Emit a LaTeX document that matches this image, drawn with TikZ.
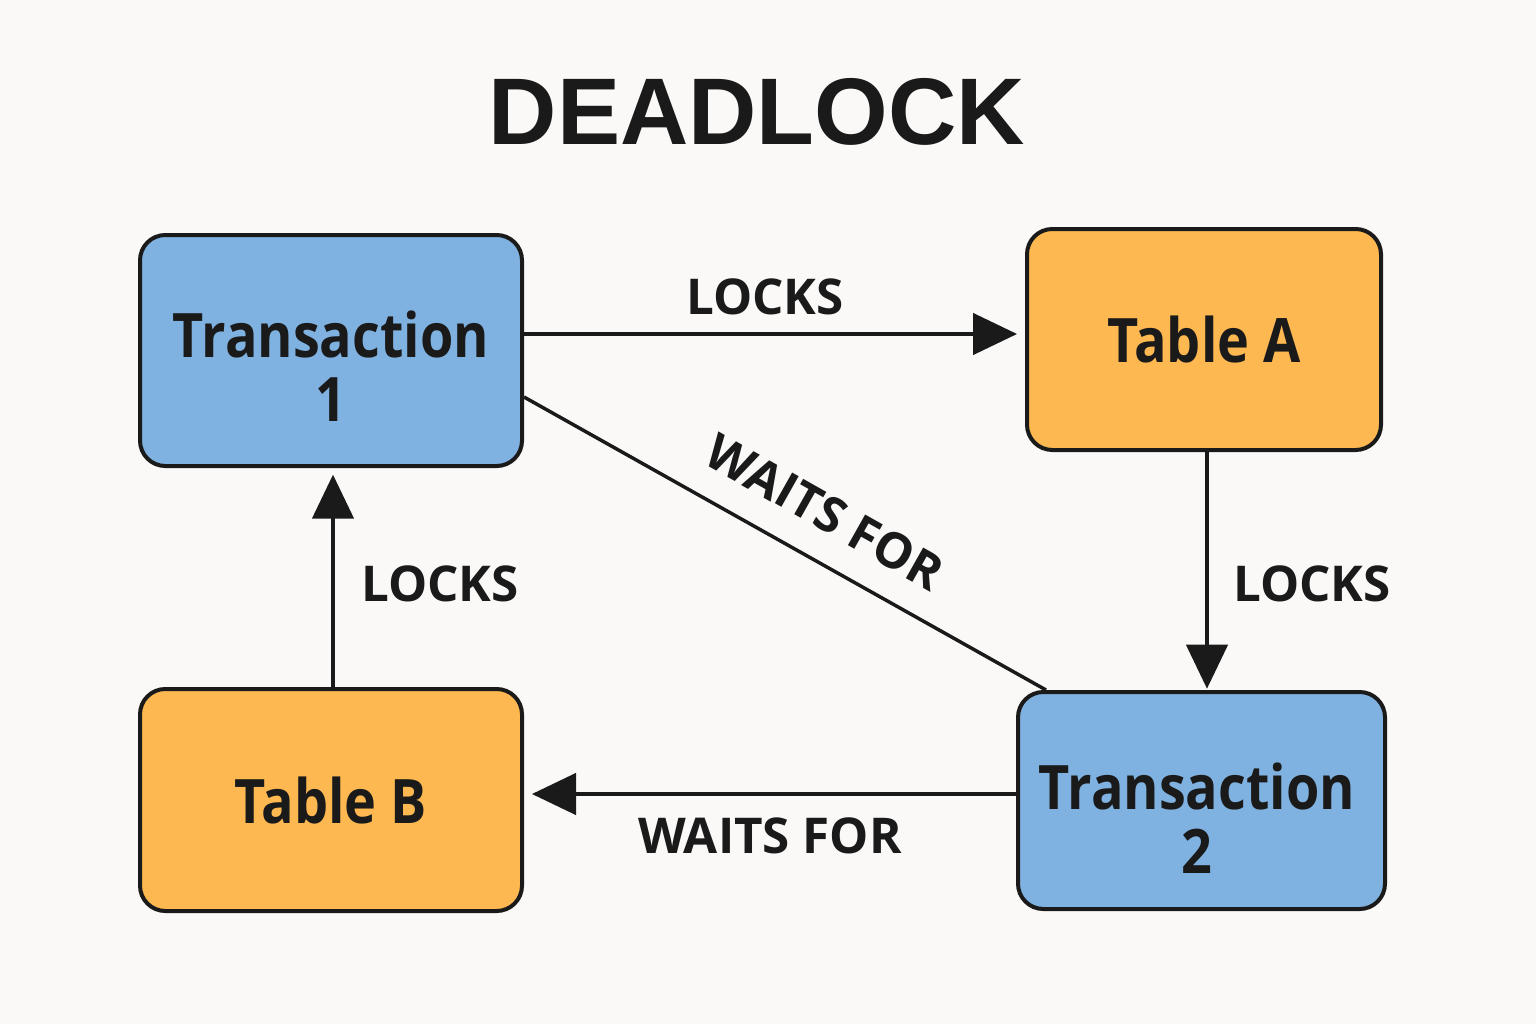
\documentclass[tikz,border=0pt]{standalone}
\usepackage{fontspec}
\setmainfont{Open Sans}
\newfontfamily\boxfont[FakeStretch=0.88]{Open Sans}
\newfontfamily\titlefont{Liberation Sans}
\usetikzlibrary{arrows.meta}
\definecolor{bgc}{HTML}{FAF9F7}
\definecolor{bluef}{HTML}{7FB2E0}
\definecolor{orangef}{HTML}{FDB851}
\definecolor{ink}{HTML}{1A1A1A}
\tikzset{
  box/.style={draw=ink, line width=3pt, rounded corners=19pt, align=center,
    font=\boxfont\fontsize{46}{48}\selectfont\bfseries, text=ink, inner sep=0pt},
  bluebox/.style={box, fill=bluef},
  orangebox/.style={box, fill=orangef},
  boxtext/.style={align=center, font=\boxfont\fontsize{46}{48}\selectfont\bfseries, text=ink, inner sep=0pt},
  arr/.style={draw=ink, line width=2.6pt, -{Triangle[length=33pt,width=31pt]}},
  conn/.style={draw=ink, line width=2.6pt},
  lbl/.style={font=\fontsize{37}{38}\selectfont\bfseries, text=ink, inner sep=0pt}
}
\begin{document}
\begin{tikzpicture}[x=0.75pt,y=-0.75pt]
\useasboundingbox[fill=bgc] (0,0) rectangle (1536,1024);
\node[font=\titlefont\fontsize{71}{72}\selectfont\bfseries, text=ink, inner sep=0pt] (title) at (757,112) {DEADLOCK};
\node[bluebox, minimum width={382*0.75pt}, minimum height={231*0.75pt}] (t1) at (331,350.5) {};
\node[boxtext] (t1text) at (331,366) {Transaction\\1};
\node[orangebox, minimum width={354*0.75pt}, minimum height={221*0.75pt}] (ta) at (1204,339.5) {Table A};
\node[orangebox, minimum width={382*0.75pt}, minimum height={222*0.75pt}] (tb) at (331,800) {Table B};
\node[bluebox, minimum width={367*0.75pt}, minimum height={217*0.75pt}] (t2) at (1201.5,800.5) {};
\node[boxtext] (t2text) at (1197,818) {Transaction\\2};
% arrows
\draw[arr, shorten >=6pt] (t1.east |- 0,334) -- (ta.west |- 0,334);
\draw[arr, shorten >=1pt] (ta.south -| 1207,0) -- (t2.north -| 1207,0);
\draw[arr, shorten >=6pt] (t2.west |- 0,794) -- (tb.east |- 0,794);
\draw[arr, shorten >=5pt] (tb.north -| 333,0) -- (t1.south -| 333,0);
\draw[conn] (t1.east |- 0,397) -- (t2.north -| 1046,0);
% labels
\node[lbl] (l1) at (765,297) {LOCKS};
\node[lbl] (l2) at (1312,584) {LOCKS};
\node[lbl] (l3) at (440,584) {LOCKS};
\node[lbl] (l4) at (770,836) {WAITS FOR};
\node[lbl, rotate=-29.4] (l5) at (825,512) {WAITS FOR};
\end{tikzpicture}
\end{document}
